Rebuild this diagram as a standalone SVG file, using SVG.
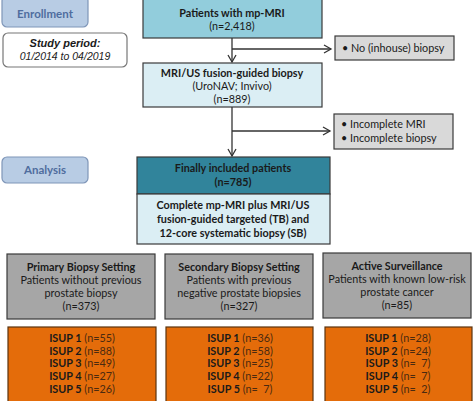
<svg xmlns="http://www.w3.org/2000/svg" width="474" height="401" viewBox="0 0 474 401">
<defs>
<marker id="arr" markerWidth="10" markerHeight="10" refX="8" refY="5" orient="auto" markerUnits="userSpaceOnUse">
<polyline points="1,1 8,5 1,9" fill="none" stroke="#333" stroke-width="1.3"/>
</marker>
</defs>
<style>
text{font-family:Lato,"Open Sans","Liberation Sans",sans-serif;font-size:10.8px;fill:#1a1a1a;text-anchor:middle}
.b{font-weight:bold}
.box{stroke:#3a3a3a;stroke-width:1.2}
.tab{fill:#b8cce4;stroke:#7f96b8;stroke-width:1.2}
.tabt{font-weight:bold;fill:#4f6d9e;font-size:11.5px}
.gray{fill:#a6a6a6;stroke:#3a3a3a;stroke-width:1.2}
.or{fill:#e46c0a;stroke:#5a3410;stroke-width:1.2}
.ex{fill:#d9d9d9;stroke:#3a3a3a;stroke-width:1.2}
.n{fill:#4a2a10}
.con{stroke:#333;stroke-width:1.3;fill:none}
</style>
<g id="enrollment"><rect class="tab" x="2" y="-4" width="86" height="31" rx="5"/><text class="tabt" x="45" y="18">Enrollment</text></g>
<g id="study"><rect x="3" y="33" width="124" height="34" rx="5" fill="#fff" stroke="#777" stroke-width="1.2"/>
<text x="65" y="47" style="font-family:'Liberation Sans',sans-serif;font-weight:bold;font-style:italic;font-size:11px">Study period:</text>
<text x="65" y="60" style="font-family:'Liberation Sans',sans-serif;font-style:italic;font-size:10.5px">01/2014 to 04/2019</text></g>
<g id="analysis"><rect class="tab" x="2" y="157" width="86" height="26" rx="5"/><text class="tabt" x="45" y="174">Analysis</text></g>
<g id="mri"><rect class="box" x="143" y="-2" width="179" height="40" fill="#92cddc"/><text class="b" x="232" y="17">Patients with mp-MRI</text><text x="232" y="30">(n=2,418)</text></g>
<g id="fusion"><rect class="box" x="143" y="63" width="179" height="44" fill="#dbeef4"/><text class="b" x="232" y="77">MRI/US fusion-guided biopsy</text><text x="232" y="90">(UroNAV; Invivo)</text><text x="232" y="103">(n=889)</text></g>
<g id="excl1"><rect class="ex" x="335" y="36" width="119" height="24"/><text x="342" y="51.5" style="text-anchor:start">•  No (inhouse) biopsy</text></g>
<g id="excl2"><rect class="ex" x="334" y="114" width="119" height="35"/><text x="341" y="128" style="text-anchor:start">•  Incomplete MRI</text><text x="341" y="142" style="text-anchor:start">•  Incomplete biopsy</text></g>
<g id="included"><rect class="box" x="137" y="157" width="193" height="37" fill="#31849b"/><text class="b" x="233" y="172">Finally included patients</text><text class="b" x="233" y="186">(n=785)</text>
<rect class="box" x="137" y="194" width="193" height="50" fill="#dbeef4"/><text class="b" x="233" y="209">Complete mp-MRI plus MRI/US</text><text class="b" x="233" y="223">fusion-guided targeted (TB) and</text><text class="b" x="233" y="237">12-core systematic biopsy (SB)</text></g>
<g id="primary"><rect class="gray" x="7" y="254" width="148" height="65"/><text class="b" x="81" y="271">Primary Biopsy Setting</text><text x="81" y="284">Patients without previous</text><text x="81" y="297">prostate biopsy</text><text x="81" y="310">(n=373)</text></g>
<g id="secondary"><rect class="gray" x="165" y="254" width="148" height="65"/><text class="b" x="239" y="271">Secondary Biopsy Setting</text><text x="239" y="284">Patients with previous</text><text x="239" y="297">negative prostate biopsies</text><text x="239" y="310">(n=327)</text></g>
<g id="active"><rect class="gray" x="323" y="253" width="148" height="65"/><text class="b" x="397" y="270">Active Surveillance</text><text x="397" y="283">Patients with known low-risk</text><text x="397" y="296">prostate cancer</text><text x="397" y="309">(n=85)</text></g>
<g id="isup1"><rect class="or" x="8" y="327" width="148" height="78"/>
<text x="82" y="342"><tspan class="b">ISUP 1</tspan> <tspan class="n">(n=55)</tspan></text>
<text x="82" y="355"><tspan class="b">ISUP 2</tspan> <tspan class="n">(n=88)</tspan></text>
<text x="82" y="367"><tspan class="b">ISUP 3</tspan> <tspan class="n">(n=49)</tspan></text>
<text x="82" y="380"><tspan class="b">ISUP 4</tspan> <tspan class="n">(n=27)</tspan></text>
<text x="82" y="393"><tspan class="b">ISUP 5</tspan> <tspan class="n">(n=26)</tspan></text></g>
<g id="isup2"><rect class="or" x="166" y="327" width="147" height="78"/>
<text x="240" y="342"><tspan class="b">ISUP 1</tspan> <tspan class="n">(n=36)</tspan></text>
<text x="240" y="355"><tspan class="b">ISUP 2</tspan> <tspan class="n">(n=58)</tspan></text>
<text x="240" y="367"><tspan class="b">ISUP 3</tspan> <tspan class="n">(n=25)</tspan></text>
<text x="240" y="380"><tspan class="b">ISUP 4</tspan> <tspan class="n">(n=22)</tspan></text>
<text x="240" y="393"><tspan class="b">ISUP 5</tspan> <tspan class="n" xml:space="preserve">(n=  7)</tspan></text></g>
<g id="isup3"><rect class="or" x="325" y="327" width="147" height="78"/>
<text x="398" y="342"><tspan class="b">ISUP 1</tspan> <tspan class="n">(n=28)</tspan></text>
<text x="398" y="355"><tspan class="b">ISUP 2</tspan> <tspan class="n">(n=24)</tspan></text>
<text x="398" y="367"><tspan class="b">ISUP 3</tspan> <tspan class="n" xml:space="preserve">(n=  7)</tspan></text>
<text x="398" y="380"><tspan class="b">ISUP 4</tspan> <tspan class="n" xml:space="preserve">(n=  7)</tspan></text>
<text x="398" y="393"><tspan class="b">ISUP 5</tspan> <tspan class="n" xml:space="preserve">(n=  2)</tspan></text></g>
<g id="connectors">
<path class="con" d="M232,38 V62" marker-end="url(#arr)"/>
<path class="con" d="M232,49 H331" marker-end="url(#arr)"/>
<path class="con" d="M232,107 V156" marker-end="url(#arr)"/>
<path class="con" d="M232,131 H330" marker-end="url(#arr)"/>
</g>
</svg>
